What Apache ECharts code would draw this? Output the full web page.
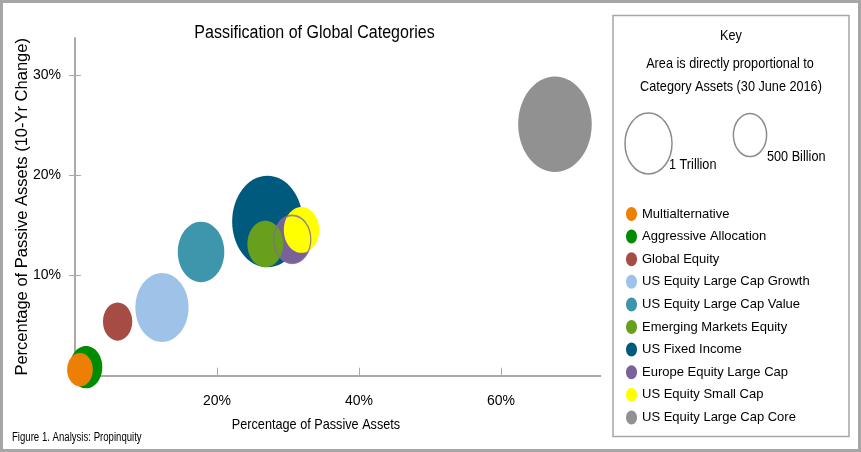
<!DOCTYPE html>
<html>
<head>
<meta charset="utf-8">
<script src="https://cdn.jsdelivr.net/npm/echarts@6/dist/echarts.min.js"></script>
<style>
  html, body { margin: 0; padding: 0; background: #fff; }
  #chart { width: 861px; height: 452px; }
</style>
</head>
<body>
<div id="chart"></div>
<script>
// categories in key order
var categories = [
  "Multialternative",
  "Aggressive Allocation",
  "Global Equity",
  "US Equity Large Cap Growth",
  "US Equity Large Cap Value",
  "Emerging Markets Equity",
  "US Fixed Income",
  "Europe Equity Large Cap",
  "US Equity Small Cap",
  "US Equity Large Cap Core"
];
// % of passive assets (x)
var passiveShare = [0.7, 1.55, 6.0, 12.25, 17.75, 26.8, 27.1, 30.6, 31.9, 67.6];
// 10-yr change in passive share (y)
var tenYrChange = [0.6, 0.85, 5.4, 6.8, 12.35, 13.15, 15.4, 13.6, 14.55, 25.1];
// category assets, $bn (bubble area)
var assetsBn = [300, 480, 390, 1280, 980, 580, 2250, 620, 565, 2450];
var colors = ["#ed8004", "#008c00", "#a64c45", "#9fc3e8", "#3d96ab",
              "#689f1d", "#005a7d", "#79629a", "#ffff00", "#919191"];

var xTicks = [20, 40, 60];
var yTicks = [10, 20, 30];
var keySizes = [1000, 500];
var keyLabels = ["1 Trillion", "500 Billion"];

// no narrow face installed, so squeeze regular text a bit
var sans = "'Liberation Sans', Arial, sans-serif";
var ellipse = "path://M0,-1 C0.5523,-1 1,-0.5523 1,0 C1,0.5523 0.5523,1 0,1 C-0.5523,1 -1,0.5523 -1,0 C-1,-0.5523 -0.5523,-1 0,-1 Z";

// bubble size: area ~ assets, ellipses a bit taller than wide
function bubble(bn) {
  var k = Math.sqrt(bn / 1000);
  return [47 * k, 61 * k];
}

function label(text, x, y, size, align, squeeze) {
  return {
    type: "text", x: x, y: y, scaleX: squeeze || 0.845, silent: true,
    style: { text: text, font: size + "px " + sans, fill: "#000",
             align: align || "center", verticalAlign: "middle" }
  };
}

var chart = echarts.init(document.getElementById("chart"));

// bigger bubbles first so small ones sit on top
var order = categories.map(function (c, i) { return i; });
order.sort(function (a, b) { return assetsBn[b] - assetsBn[a]; });

var series = order.map(function (i) {
  return {
    type: "scatter",
    name: categories[i],
    symbol: ellipse,
    symbolKeepAspect: false,
    clip: false,
    symbolSize: function (v) { return bubble(v[2]); },
    itemStyle: { color: colors[i], opacity: 1 },
    emphasis: { disabled: true },
    data: [[passiveShare[i], tenYrChange[i], assetsBn[i]]]
  };
});
// outline of the Europe bubble drawn over the small cap one
var eu = categories.indexOf("Europe Equity Large Cap");
series.push({
  type: "scatter",
  name: "outline",
  symbol: ellipse,
  clip: false,
  z: 5,
  symbolSize: function (v) { return bubble(v[2]); },
  itemStyle: { color: "rgba(0,0,0,0)", borderColor: "#7f6c9c", borderWidth: 1.5 },
  emphasis: { disabled: true },
  data: [[passiveShare[eu], tenYrChange[eu], assetsBn[eu]]]
});

var axisGray = "#a9a9a9";

var option = {
  backgroundColor: "#fff",
  animation: false,
  grid: { left: 75, top: 38, width: 525.4, height: 337.7, outerBoundsMode: "none", containLabel: false },
  xAxis: {
    type: "value",
    min: 0,
    max: 74,
    splitLine: { show: false },
    axisLine: { lineStyle: { color: axisGray, width: 2 } },
    axisTick: { inside: true, length: 8, customValues: xTicks, lineStyle: { color: axisGray, width: 1 } },
    axisLabel: {
      customValues: xTicks,
      margin: 18,
      formatter: "{value}%",
      fontFamily: sans, fontSize: 14, color: "#000"
    }
  },
  yAxis: [{
    type: "value",
    min: 0,
    max: 33.7,
    name: "Percentage of Passive Assets (10-Yr Change)",
    nameLocation: "middle",
    nameGap: 44,
    nameRotate: 90,
    nameMoveOverlap: false,
    nameTextStyle: { fontFamily: sans, fontSize: 16.5, color: "#000" },
    splitLine: { show: false },
    axisLine: { lineStyle: { color: axisGray, width: 2 } },
    axisTick: { length: 6, customValues: yTicks, lineStyle: { color: axisGray, width: 1 } },
    axisLabel: {
      customValues: yTicks,
      margin: 14,
      formatter: "{value}%",
      fontFamily: sans, fontSize: 14, color: "#000"
    }
  }, {
    type: "value",
    min: 0,
    max: 33.7,
    position: "left",
    splitLine: { show: false },
    axisLine: { show: false },
    axisTick: { inside: true, length: 6, customValues: yTicks, lineStyle: { color: axisGray, width: 1 } },
    axisLabel: { show: false }
  }],
  legend: {
    data: categories,
    orient: "vertical",
    left: 621,
    top: 202,
    itemWidth: 11,
    itemHeight: 14,
    itemGap: 8.6,
    icon: ellipse,
    symbolKeepAspect: false,
    selectedMode: false,
    textStyle: { fontFamily: sans, fontSize: 13, color: "#000" }
  },
  graphic: [
    { type: "rect", shape: { x: 1.5, y: 1.5, width: 858, height: 449 },
      style: { fill: "none", stroke: "#a6a6a6", lineWidth: 3 }, silent: true },
    { type: "rect", shape: { x: 613, y: 15.5, width: 236, height: 421 },
      style: { fill: "none", stroke: "#a6a6a6", lineWidth: 1.5 }, silent: true },
    label("Passification of Global Categories", 314.5, 33, 18, "center", 0.89),
    label("Percentage of Passive Assets", 316, 425, 15),
    label("Figure 1. Analysis: Propinquity", 12, 438, 12, "left", 0.8),
    label("Key", 731, 36, 15),
    label("Area is directly proportional to", 730, 64, 15),
    label("Category Assets (30 June 2016)", 731, 87, 15),
    { type: "ellipse", shape: { cx: 648.5, cy: 143.5, rx: bubble(keySizes[0])[0] / 2, ry: bubble(keySizes[0])[1] / 2 },
      style: { fill: "none", stroke: "#8c8c8c", lineWidth: 1.5 } },
    { type: "ellipse", shape: { cx: 750, cy: 135, rx: bubble(keySizes[1])[0] / 2, ry: bubble(keySizes[1])[1] / 2 },
      style: { fill: "none", stroke: "#8c8c8c", lineWidth: 1.5 } },
    label(keyLabels[0], 669, 165, 15, "left"),
    label(keyLabels[1], 767, 157, 15, "left")
  ],
  series: series
};

chart.setOption(option);
</script>
</body>
</html>
